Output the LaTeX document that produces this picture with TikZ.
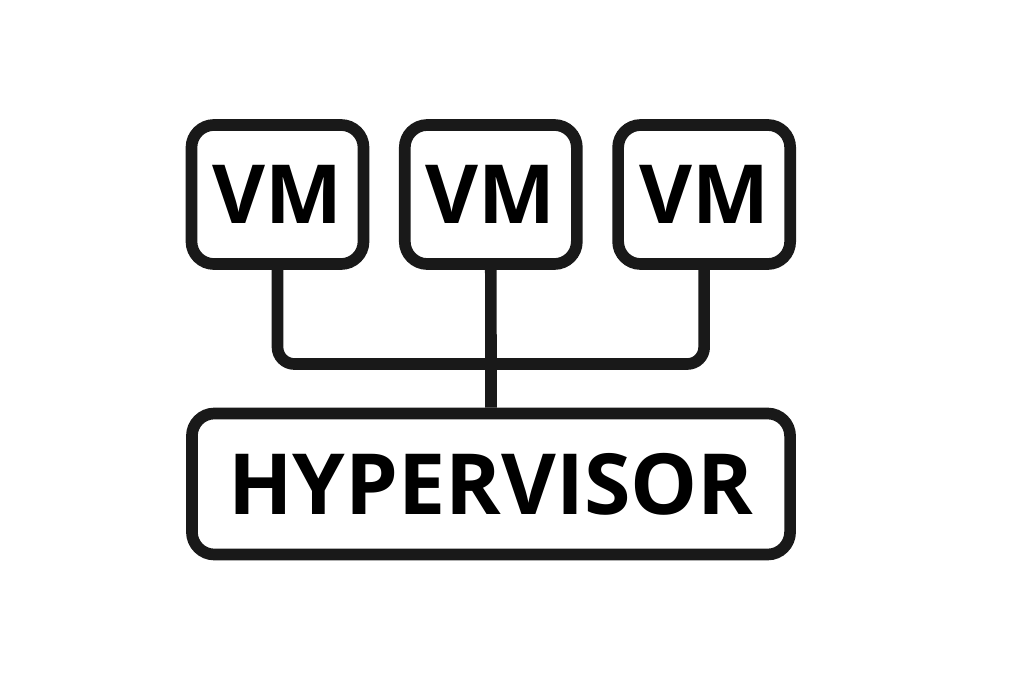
\documentclass[tikz,border=0pt]{standalone}
\usepackage{fontspec}
\setmainfont{Open Sans}
\usepackage{tikz}
\usetikzlibrary{positioning}

\begin{document}
\begin{tikzpicture}[
    x=0.025cm, y=0.025cm,
    node distance=0.74cm,
    vmbox/.style={
        rectangle,
        draw=black!90,
        line width=8.3pt,
        rounded corners=16pt,
        minimum width=4.3cm,
        minimum height=3.475cm,
        font=\fontsize{58}{58}\selectfont\bfseries
    },
    link/.style={draw=black!90, line width=8.3pt}
]
\useasboundingbox (0,0) rectangle (1024,-683);

% guest machines
\node[vmbox] (vm1) at (277.5,-194.5) {VM};
\node[vmbox, right=of vm1] (vm2) {VM};
\node[vmbox, right=of vm2] (vm3) {VM};

% host layer
\node[vmbox, minimum width=14.95cm, minimum height=3.525cm,
      font=\fontsize{60}{60}\selectfont\bfseries] (hyp) at (491,-484) {HYPERVISOR};

\coordinate (bus) at (vm2.south |- 0,-364);
\draw[link, rounded corners=12pt] (vm1.south) |- (bus) -| (vm3.south);
\draw[link] (vm2.south) -- (hyp.north);

\end{tikzpicture}
\end{document}
